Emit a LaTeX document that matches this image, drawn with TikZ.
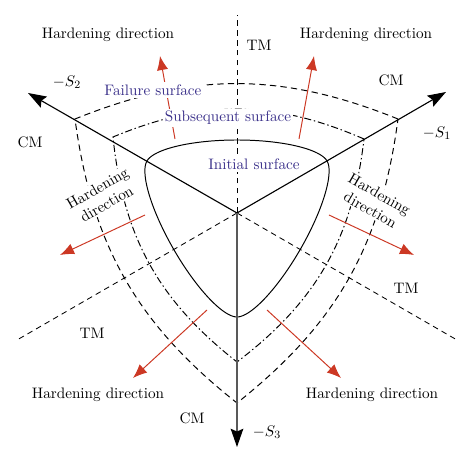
\documentclass[tikz,border=0pt]{standalone}
\usetikzlibrary{arrows.meta}
\definecolor{surfblue}{RGB}{58,48,138}
\definecolor{hardred}{RGB}{204,56,36}
\begin{document}
\begin{tikzpicture}[x=0.025cm,y=0.025cm,
    font=\fontsize{10.8}{13}\selectfont,
    axis/.style={line width=0.8pt,-{Stealth[length=13pt,width=9pt,inset=2pt]}},
    meridian/.style={line width=0.6pt,dash pattern=on 4pt off 3pt},
    failsurf/.style={line width=0.7pt,dash pattern=on 4.5pt off 3pt},
    subsurf/.style={line width=0.7pt,dash pattern=on 5pt off 2pt on 1pt off 2pt},
    hardarrow/.style={hardred,line width=0.7pt,-{Latex[length=10pt,width=8pt]}},
    lbl/.style={inner sep=1pt},
    surflbl/.style={text=surfblue,fill=white,inner sep=1.5pt},
    hardlbl/.style={fill=white,inner sep=1pt,align=center}
  ]
  \useasboundingbox (-237,-251) rectangle (237,213);
  % centre, axis tips and meridian ends
  \coordinate (O) at (0,0);
  \coordinate (s1) at (209,121);
  \coordinate (s2) at (-209,120);
  \coordinate (s3) at (0,-234);
  \coordinate (tmtop) at (0,198);
  \coordinate (tmright) at (220,-127);
  \coordinate (tmleft) at (-220,-127);
  % corners of the failure and subsequent surfaces
  \coordinate (f1) at (161,94);
  \coordinate (f2) at (-162,94);
  \coordinate (f3) at (0,-190);
  \coordinate (u1) at (127,74);
  \coordinate (u2) at (-124,76);
  \coordinate (u3) at (0,-149);
  % tension meridians
  \draw[meridian] (O) -- (tmtop);
  \draw[meridian] (O) -- (tmright);
  \draw[meridian] (O) -- (tmleft);
  % surfaces (initial one: r_t = 0.73, r_c = 1.04)
  \draw[line width=0.7pt] plot[domain=0:359,samples=360,smooth cycle]
    (\x:{100*(1.141296*cos(acos(cos(3*(\x-90)))/3)
      +0.4368*sqrt(2.1948*cos(acos(cos(3*(\x-90)))/3)^2-0.3723))
      /(2.1948*cos(acos(cos(3*(\x-90)))/3)^2+0.1764)});
  \draw[subsurf] (u1) to[bend right=23] (u2) to[bend right=23] (u3) to[bend right=23] (u1);
  \draw[failsurf] (f1) to[bend right=22] (f2) to[bend right=22] (f3) to[bend right=22] (f1);
  % axes
  \draw[axis] (O) -- (s1);
  \draw[axis] (O) -- (s2);
  \draw[axis,draw=black!65,-{Stealth[length=13pt,width=9pt,inset=2pt,color=black]}] (O) -- (s3);
  % hardening directions
  \coordinate (a1) at (-62,74);  \coordinate (b1) at (-77,157);
  \coordinate (a2) at (62,74);   \coordinate (b2) at (77,157);
  \coordinate (a3) at (-92,-2);  \coordinate (b3) at (-177,-42);
  \coordinate (a4) at (92,-2);   \coordinate (b4) at (177,-42);
  \coordinate (a5) at (-30,-97); \coordinate (b5) at (-104,-165);
  \coordinate (a6) at (30,-97);  \coordinate (b6) at (104,-165);
  \foreach \i in {1,...,6}
    \draw[hardarrow] (a\i) -- (b\i);
  % labels
  \node[lbl] (ls1) at (200,80) {$-S_1$};
  \node[lbl] (ls2) at (-170,131) {$-S_2$};
  \node[lbl] (ls3) at (30,-219) {$-S_3$};
  \node[lbl] (tm1) at (22,168) {TM};
  \node[lbl] (tm2) at (169,-75) {TM};
  \node[lbl] (tm3) at (-145,-120) {TM};
  \node[lbl] (cm1) at (154,133) {CM};
  \node[lbl] (cm2) at (-207,71) {CM};
  \node[lbl] (cm3) at (-45,-205) {CM};
  \node[lbl] (hd1) at (-129,178) {Hardening direction};
  \node[lbl] (hd2) at (129,178) {Hardening direction};
  \node[lbl] (hd3) at (-139,-182) {Hardening direction};
  \node[lbl] (hd4) at (135,-182) {Hardening direction};
  \node[hardlbl,rotate=30] (hd5) at (-135,17) {Hardening\\direction};
  \node[hardlbl,rotate=-30] (hd6) at (138,11) {Hardening\\direction};
  \node[surflbl] (fail) at (-84,123) {Failure surface};
  \node[surflbl] (subs) at (-9,95) {Subsequent surface};
  \node[surflbl] (init) at (17,49) {Initial surface};
\end{tikzpicture}
\end{document}
